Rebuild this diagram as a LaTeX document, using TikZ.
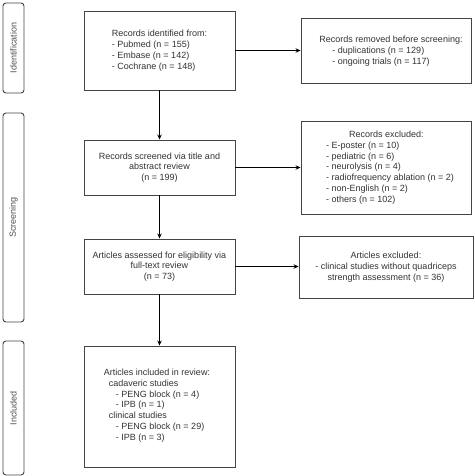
\documentclass[tikz,border=0pt]{standalone}
\usepackage{fontspec}
\setmainfont{Liberation Sans}
\usetikzlibrary{arrows.meta}
\definecolor{txt}{HTML}{333333}
\definecolor{edge}{HTML}{444444}
\tikzset{
  box/.style={draw=edge, line width=0.9pt, inner sep=0pt, text=txt,
    font=\fontsize{9}{10.8}\selectfont},
  phase/.style={draw=edge, line width=0.9pt, rounded corners=3pt, inner sep=0pt,
    text=txt!85, rotate=90, font=\fontsize{9}{10.8}\selectfont},
  conn/.style={draw=black, line width=0.8pt, -{Stealth[length=5pt,width=4.5pt]}},
}
\begin{document}
\begin{tikzpicture}[x=1pt,y=-1pt]
\useasboundingbox (0,0) rectangle (474,476);
\fill[white] (0,0) rectangle (474,476);
% phases
\node[phase, minimum width=90, minimum height=21] (ph1) at (13.5,48) {Identification};
\node[phase, minimum width=209, minimum height=21] (ph2) at (13.5,217.5) {Screening};
\node[phase, minimum width=134, minimum height=21] (ph3) at (13.5,408) {Included};
% main column
\node[box, minimum width=151, minimum height=79, align=left] (b1) at (159.5,50.5)
  {Records identified from:\\- Pubmed (n = 155)\\- Embase (n = 142)\\- Cochrane (n = 148)};
\node[box, minimum width=151, minimum height=55, align=center] (b2) at (159.5,167.5)
  {Records screened via title and\\abstract review\\(n = 199)};
\node[box, minimum width=151, minimum height=55, align=center] (b3) at (159.5,266.5)
  {Articles assessed for eligibility via\\full-text review\\(n = 73)};
\node[box, minimum width=151, minimum height=121] (b4) at (159.5,406.5) {};
\node[box, draw=none, align=left] (b4t) at (157,405.5)
  {Articles included in review:\\
   \hspace*{5pt}cadaveric studies\\
   \hspace*{12pt}- PENG block (n = 4)\\
   \hspace*{12pt}- IPB (n = 1)\\
   \hspace*{5pt}clinical studies\\
   \hspace*{12pt}- PENG block (n = 29)\\
   \hspace*{12pt}- IPB (n = 3)};
% right column
\node[box, minimum width=170, minimum height=65] (r1) at (386,50.5) {};
\node[box, draw=none, align=left] (r1t) at (391,51)
  {Records removed before screening:\\
   \hspace*{13pt}- duplications (n = 129)\\
   \hspace*{13pt}- ongoing trials (n = 117)};
\node[box, minimum width=170, minimum height=93] (r2) at (386,167.5) {};
\node[box, draw=none, align=left] (r2t) at (390,167.5)
  {\hspace*{23pt}Records excluded:\\
   - E-poster (n = 10)\\
   - pediatric (n = 6)\\
   - neurolysis (n = 4)\\
   - radiofrequency ablation (n = 2)\\
   - non-English (n = 2)\\
   - others (n = 102)};
\node[box, minimum width=174, minimum height=62, align=center] (r3) at (386,267)
  {Articles excluded:\\- clinical studies without quadriceps\\strength assessment (n = 36)};
% connectors
\draw[conn] (b1) -- (b2);
\draw[conn] (b2) -- (b3);
\draw[conn] (b3) -- (b4);
\draw[conn] (b1) -- (r1);
\draw[conn] (b2) -- (r2);
\draw[conn] (b3.east) -- (r3.west |- b3.east);
\end{tikzpicture}
\end{document}
